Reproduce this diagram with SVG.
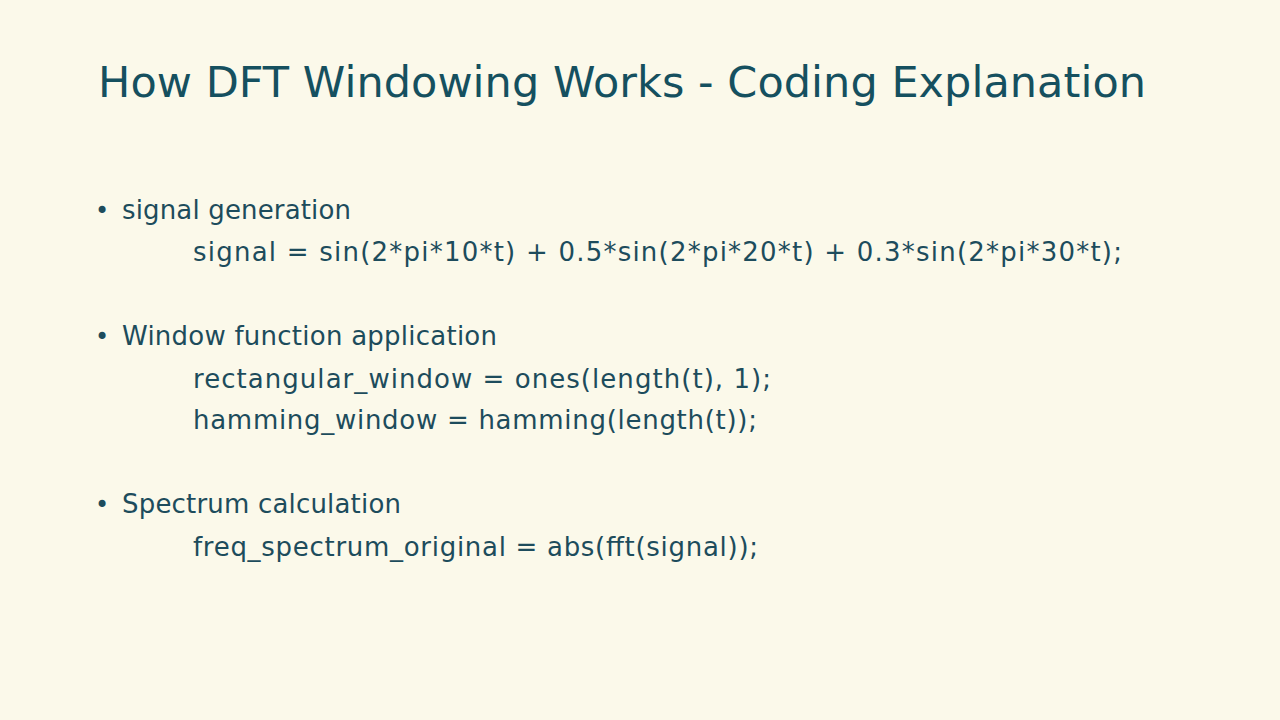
<svg xmlns="http://www.w3.org/2000/svg" width="1280" height="720" viewBox="0 0 1280 720">
<style>
text{font-family:"DejaVu Sans","Liberation Sans",sans-serif;fill:#1d4c5c}
.t{font-size:43px;fill:#15505f}
.b{font-size:26px}
.d{font-size:24px}
</style>
<rect width="1280" height="720" fill="#fbf9ea"/>
<text class="t" x="98" y="97" textLength="1048" lengthAdjust="spacing">How DFT Windowing Works - Coding Explanation</text>
<text class="d" x="95" y="219">•</text>
<text class="b" x="122" y="219" textLength="229" lengthAdjust="spacing">signal generation</text>
<text class="b" x="193" y="261" textLength="929" lengthAdjust="spacing">signal = sin(2*pi*10*t) + 0.5*sin(2*pi*20*t) + 0.3*sin(2*pi*30*t);</text>
<text class="d" x="95" y="345">•</text>
<text class="b" x="122" y="345" textLength="375" lengthAdjust="spacing">Window function application</text>
<text class="b" x="193" y="388" textLength="578" lengthAdjust="spacing">rectangular_window = ones(length(t), 1);</text>
<text class="b" x="193" y="429" textLength="564" lengthAdjust="spacing">hamming_window = hamming(length(t));</text>
<text class="d" x="95" y="513">•</text>
<text class="b" x="122" y="513" textLength="279" lengthAdjust="spacing">Spectrum calculation</text>
<text class="b" x="193" y="556" textLength="565" lengthAdjust="spacing">freq_spectrum_original = abs(fft(signal));</text>
</svg>
